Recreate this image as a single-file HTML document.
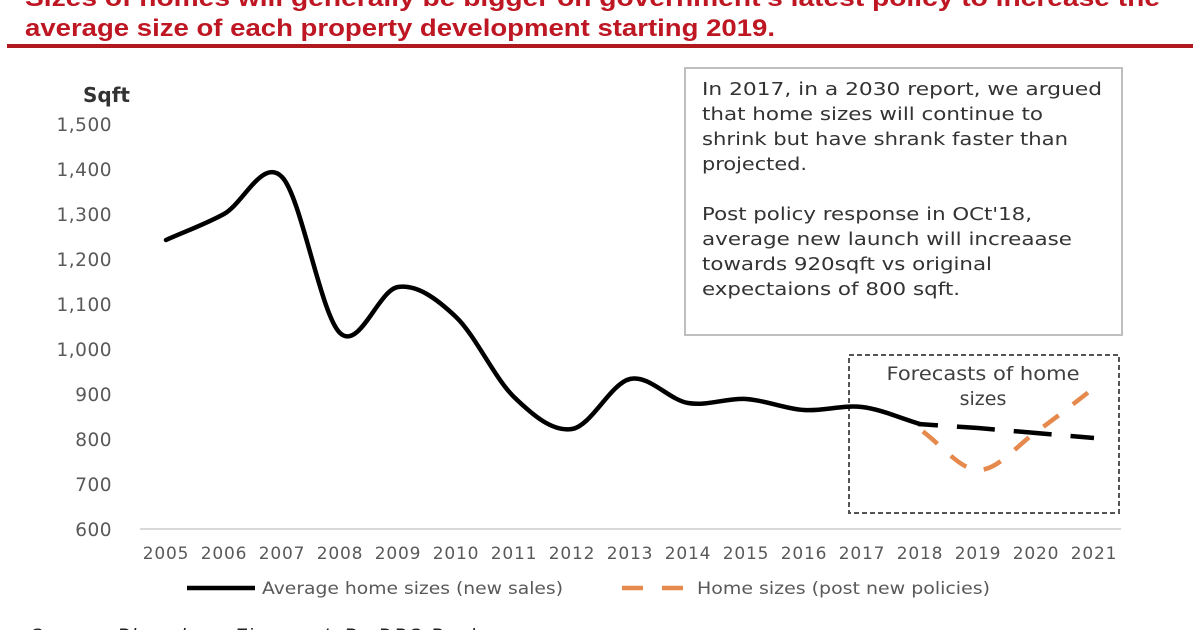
<!DOCTYPE html>
<html>
<head>
<meta charset="utf-8">
<style>
html,body{margin:0;padding:0;background:#fff;}
body{width:1200px;height:630px;overflow:hidden;}
svg{display:block;}
</style>
</head>
<body>
<svg width="1200" height="630" viewBox="0 0 1200 630" xmlns="http://www.w3.org/2000/svg">
  <!-- Title -->
  <g font-family="Liberation Sans, Arial, sans-serif" font-weight="bold" fill="#be1622">
    <text x="25" y="6" font-size="24" textLength="1135" lengthAdjust="spacingAndGlyphs">Sizes of homes will generally be bigger on government's latest policy to increase the</text>
    <text x="25" y="36" font-size="24" textLength="750" lengthAdjust="spacingAndGlyphs">average size of each property development starting 2019.</text>
  </g>
  <rect x="7" y="44" width="1186" height="4" fill="#b01a1f"/>

  <!-- Y axis title -->
  <text x="83" y="102" font-family="DejaVu Sans, Liberation Sans, sans-serif" font-weight="bold" font-size="20" fill="#333">Sqft</text>

  <!-- Y tick labels -->
  <g font-family="DejaVu Sans, Liberation Sans, sans-serif" font-size="18.5" fill="#595959" text-anchor="end" letter-spacing="0.5">
    <text x="112" y="131">1,500</text>
    <text x="112" y="176">1,400</text>
    <text x="112" y="221">1,300</text>
    <text x="112" y="266">1,200</text>
    <text x="112" y="311">1,100</text>
    <text x="112" y="356">1,000</text>
    <text x="112" y="401">900</text>
    <text x="112" y="446">800</text>
    <text x="112" y="491">700</text>
    <text x="112" y="536">600</text>
  </g>

  <!-- X axis line -->
  <line x1="140" y1="529" x2="1121" y2="529" stroke="#d9d9d9" stroke-width="2"/>

  <!-- X tick labels -->
  <g font-family="DejaVu Sans, Liberation Sans, sans-serif" font-size="17" fill="#595959" text-anchor="middle" letter-spacing="0.8">
    <text x="166" y="559">2005</text>
    <text x="224" y="559">2006</text>
    <text x="282" y="559">2007</text>
    <text x="340" y="559">2008</text>
    <text x="398" y="559">2009</text>
    <text x="456" y="559">2010</text>
    <text x="514" y="559">2011</text>
    <text x="572" y="559">2012</text>
    <text x="630" y="559">2013</text>
    <text x="688" y="559">2014</text>
    <text x="746" y="559">2015</text>
    <text x="804" y="559">2016</text>
    <text x="862" y="559">2017</text>
    <text x="920" y="559">2018</text>
    <text x="978" y="559">2019</text>
    <text x="1036" y="559">2020</text>
    <text x="1094" y="559">2021</text>
  </g>

  <!-- Annotation text box -->
  <rect x="685" y="68" width="437" height="267" fill="#fff" stroke="#bfbfbf" stroke-width="2"/>
  <g font-family="DejaVu Sans, Liberation Sans, sans-serif" font-size="18" fill="#333">
    <text x="702" y="95" textLength="400" lengthAdjust="spacingAndGlyphs">In 2017, in a 2030 report, we argued</text>
    <text x="702" y="120" textLength="341" lengthAdjust="spacingAndGlyphs">that home sizes will continue to</text>
    <text x="702" y="145" textLength="366" lengthAdjust="spacingAndGlyphs">shrink but have shrank faster than</text>
    <text x="702" y="170" textLength="105" lengthAdjust="spacingAndGlyphs">projected.</text>
    <text x="702" y="220" textLength="330" lengthAdjust="spacingAndGlyphs">Post policy response in OCt'18,</text>
    <text x="702" y="245" textLength="370" lengthAdjust="spacingAndGlyphs">average new launch will increaase</text>
    <text x="702" y="270" textLength="290" lengthAdjust="spacingAndGlyphs">towards  920sqft vs original</text>
    <text x="702" y="295" textLength="258" lengthAdjust="spacingAndGlyphs">expectaions of 800 sqft.</text>
  </g>

  <!-- Forecast dotted box -->
  <rect x="849" y="355" width="270" height="158" fill="none" stroke="#555" stroke-width="2" stroke-dasharray="5 3"/>
  <g font-family="DejaVu Sans, Liberation Sans, sans-serif" font-size="19" fill="#404040" text-anchor="middle">
    <text x="983" y="380" textLength="193" lengthAdjust="spacingAndGlyphs">Forecasts of home</text>
    <text x="983" y="405">sizes</text>
  </g>

  <!-- Black solid series -->
  <path d="M166,240 C185.33,231.33 204.67,224.5 224,214
           C243.33,203.5 262.67,157.17 282,177
           C301.33,196.83 320.67,314.67 340,333
           C359.33,351.33 378.67,289.67 398,287
           C417.33,284.33 436.67,298.67 456,317
           C475.33,335.33 494.67,378.33 514,397
           C533.33,415.67 552.67,432 572,429
           C591.33,426 610.67,383.33 630,379
           C649.33,374.67 668.67,399.67 688,403
           C707.33,406.33 726.67,397.83 746,399
           C765.33,400.17 784.67,408.67 804,410
           C823.33,411.33 842.67,404.67 862,407
           C881.33,409.33 900.67,418.33 920,424"
        fill="none" stroke="#000" stroke-width="4.5" stroke-linejoin="round" stroke-linecap="round"/>

  <!-- Black dashed forecast -->
  <path d="M918,424 L978,428 L1036,433 L1094,438" fill="none" stroke="#000" stroke-width="4.5" stroke-dasharray="38 19" stroke-dashoffset="18"/>

  <!-- Orange dashed forecast -->
  <path d="M918,428 C939.33,442 958.67,469.33 978,470
           C997.33,470.67 1016.67,445.67 1036,432
           C1055.33,418.33 1074.67,402.67 1094,388"
        fill="none" stroke="#e5894c" stroke-width="4.5" stroke-dasharray="19 18" stroke-dashoffset="-6"/>

  <!-- Legend -->
  <line x1="187" y1="588" x2="255" y2="588" stroke="#000" stroke-width="4.5"/>
  <text x="262" y="594" font-family="DejaVu Sans, Liberation Sans, sans-serif" font-size="17" fill="#595959" textLength="301" lengthAdjust="spacingAndGlyphs">Average home sizes (new sales)</text>
  <line x1="622" y1="588" x2="643" y2="588" stroke="#e5894c" stroke-width="4.5"/>
  <line x1="662" y1="588" x2="683" y2="588" stroke="#e5894c" stroke-width="4.5"/>
  <text x="697" y="594" font-family="DejaVu Sans, Liberation Sans, sans-serif" font-size="17" fill="#595959" textLength="293" lengthAdjust="spacingAndGlyphs">Home sizes (post new policies)</text>

  <!-- Source (cut off) -->
  <text x="30" y="642" font-family="Liberation Sans, Arial, sans-serif" font-style="italic" font-size="19" fill="#222" textLength="450" lengthAdjust="spacing">Source: Bloomberg Finance L.P., DBS Bank</text>
</svg>
</body>
</html>
